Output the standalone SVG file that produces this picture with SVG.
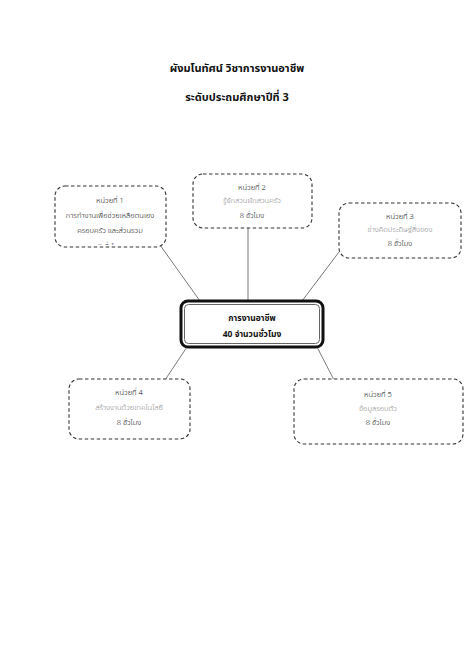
<svg xmlns="http://www.w3.org/2000/svg" width="474" height="670" viewBox="0 0 474 670">
<style>
text{font-family:"Noto Sans Thai","Leelawadee UI",Tahoma,"DejaVu Sans",sans-serif;text-anchor:middle;fill:#111;font-weight:350}
.t{font-size:11px;font-weight:bold;fill:#111}
.b{font-size:7.5px}
.g{fill:#8a8a8a}
.box{fill:#fff;stroke:#333;stroke-width:1.1;stroke-dasharray:3.5 2.5}
.ln{stroke:#555;stroke-width:0.8;fill:none}
</style>
<defs><clipPath id="c1"><rect x="55" y="186" width="111" height="59"/></clipPath></defs>
<rect width="474" height="670" fill="#fff"/>
<text class="t" x="237" y="72">ผังมโนทัศน์ วิชาการงานอาชีพ</text>
<text class="t" x="237" y="101">ระดับประถมศึกษาปีที่ 3</text>
<g id="connectors">
<line class="ln" x1="160" y1="245" x2="200" y2="301"/>
<line class="ln" x1="248" y1="228" x2="248" y2="301"/>
<line class="ln" x1="339" y1="252" x2="302" y2="301"/>
<line class="ln" x1="187" y1="347" x2="165" y2="380"/>
<line class="ln" x1="317" y1="347" x2="334" y2="380"/>
</g>
<g id="n1">
<rect class="box" x="55" y="186" width="111" height="61" rx="10"/>
<g clip-path="url(#c1)">
<text class="b" x="110" y="203">หน่วยที่ 1</text>
<text class="b" x="110" y="218">การทำงานเพื่อช่วยเหลือตนเอง</text>
<text class="b" x="110" y="233">ครอบครัว และส่วนรวม</text>
<text class="b" x="110" y="249">8 ชั่วโมง</text>
</g>
</g>
<g id="n2">
<rect class="box" x="193" y="174" width="119" height="54" rx="10"/>
<text class="b" x="252" y="190">หน่วยที่ 2</text>
<text class="b g" x="252" y="203">รู้จักสวนผักสวนครัว</text>
<text class="b" x="252" y="218">8 ชั่วโมง</text>
</g>
<g id="n3">
<rect class="box" x="339" y="203" width="122" height="55" rx="10"/>
<text class="b" x="400" y="219">หน่วยที่ 3</text>
<text class="b g" x="400" y="232">ช่างคิดประดิษฐ์สิ่งของ</text>
<text class="b" x="400" y="246">8 ชั่วโมง</text>
</g>
<g id="center">
<rect x="181" y="301" width="142" height="46" rx="7" fill="#fff" stroke="#111" stroke-width="3"/>
<rect x="184.5" y="304.5" width="135" height="39" rx="4" fill="none" stroke="#666" stroke-width="1"/>
<text style="font-weight:bold;font-size:8.5px;fill:#111" x="252" y="321">การงานอาชีพ</text>
<text style="font-weight:bold;font-size:8.5px;fill:#111" x="252" y="337">40 จำนวนชั่วโมง</text>
</g>
<g id="n4">
<rect class="box" x="69" y="379" width="121" height="60" rx="10"/>
<text class="b" x="129" y="395">หน่วยที่ 4</text>
<text class="b g" x="129" y="410">สร้างงานด้วยเทคโนโลยี</text>
<text class="b" x="129" y="425">8 ชั่วโมง</text>
</g>
<g id="n5">
<rect class="box" x="294" y="379" width="169" height="65" rx="10"/>
<text class="b" x="378" y="397">หน่วยที่ 5</text>
<text class="b g" x="378" y="411">ข้อมูลรอบตัว</text>
<text class="b" x="378" y="425">8 ชั่วโมง</text>
</g>
</svg>
